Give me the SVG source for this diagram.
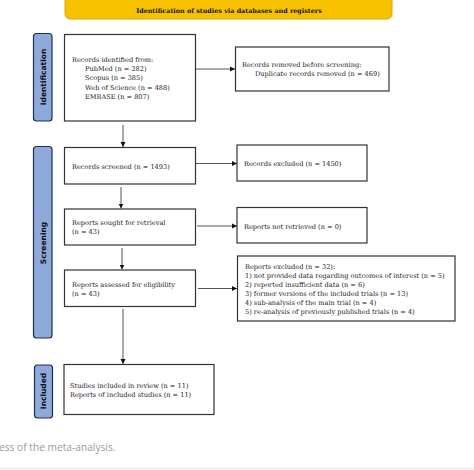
<svg xmlns="http://www.w3.org/2000/svg" width="474" height="470" viewBox="0 0 474 470">
<style>
.box{fill:#fff;stroke:#333;stroke-width:1.2}
.side{fill:#8eaadb;stroke:#1f2f4f;stroke-width:1.2}
.t{font-family:"DejaVu Serif",serif;font-size:6.6px;fill:#222}
.st{font-family:"DejaVu Sans","Liberation Sans",sans-serif;font-size:7.5px;font-weight:bold;fill:#111}
.ln{stroke:#555;stroke-width:1;fill:none}
</style>
<defs>
<marker id="ah" markerWidth="6" markerHeight="6" refX="5" refY="3" orient="auto" markerUnits="userSpaceOnUse">
<path d="M0,0.5 L5,3 L0,5.5 Z" fill="#111"/>
</marker>
</defs>
<rect x="0" y="0" width="474" height="470" fill="#fff"/>
<g id="header">
<rect x="65" y="-6" width="327" height="25" rx="5" fill="#f7c100" stroke="#e0a800" stroke-width="1"/>
<text x="229" y="12.5" text-anchor="middle" font-family="DejaVu Serif,serif" font-size="6.4" font-weight="bold" fill="#111">Identification of studies via databases and registers</text>
</g>
<g id="label-identification">
<rect class="side" x="33.5" y="33.5" width="18.5" height="87.5" rx="3"/>
<text class="st" transform="translate(45.5,77) rotate(-90)" text-anchor="middle">Identification</text>
</g>
<g id="label-screening">
<rect class="side" x="33.5" y="146.5" width="18.5" height="191.5" rx="3"/>
<text class="st" transform="translate(45.5,243) rotate(-90)" text-anchor="middle">Screening</text>
</g>
<g id="label-included">
<rect class="side" x="34.5" y="365" width="18" height="53" rx="3"/>
<text class="st" transform="translate(46,391) rotate(-90)" text-anchor="middle">Included</text>
</g>
<g id="records-identified">
<rect class="box" x="64.5" y="34.5" width="131" height="86.5"/>
<text class="t" x="72" y="62">Records identified from:</text>
<text class="t" x="85" y="71">PubMed (n = 282)</text>
<text class="t" x="85" y="80">Scopus (n = 385)</text>
<text class="t" x="85" y="89.5">Web of Science (n = 488)</text>
<text class="t" x="85" y="98.5">EMBASE (n = 807)</text>
</g>
<g id="records-removed">
<rect class="box" x="235.5" y="47" width="153.5" height="44"/>
<text class="t" x="242" y="67">Records removed before screening:</text>
<text class="t" x="255" y="76">Duplicate records removed (n = 469)</text>
</g>
<g id="records-screened">
<rect class="box" x="64.5" y="147.5" width="131" height="36.5"/>
<text class="t" x="72" y="168.5">Records screened (n = 1493)</text>
</g>
<g id="records-excluded">
<rect class="box" x="237" y="145" width="130" height="36"/>
<text class="t" x="244" y="166">Records excluded (n = 1450)</text>
</g>
<g id="reports-sought">
<rect class="box" x="64.5" y="209" width="131" height="36"/>
<text class="t" x="72" y="225">Reports sought for retrieval</text>
<text class="t" x="72" y="234">(n = 43)</text>
</g>
<g id="reports-not-retrieved">
<rect class="box" x="237" y="207.5" width="130" height="35.5"/>
<text class="t" x="244" y="228.5">Reports not retrieved (n = 0)</text>
</g>
<g id="reports-assessed">
<rect class="box" x="64.5" y="270" width="131" height="36.5"/>
<text class="t" x="72" y="286.5">Reports assessed for eligibility</text>
<text class="t" x="72" y="296">(n = 43)</text>
</g>
<g id="reports-excluded">
<rect class="box" x="237.5" y="256" width="217.5" height="65"/>
<text class="t" x="245" y="268.5">Reports excluded (n = 32):</text>
<text class="t" x="245" y="277.5">1) not provided data regarding outcomes of interest (n = 5)</text>
<text class="t" x="245" y="286.5">2) reported insufficient data (n = 6)</text>
<text class="t" x="245" y="295.5">3) former versions of the included trials (n = 13)</text>
<text class="t" x="245" y="304.5">4) sub-analysis of the main trial (n = 4)</text>
<text class="t" x="245" y="313.5">5) re-analysis of previously published trials (n = 4)</text>
</g>
<g id="studies-included">
<rect class="box" x="64" y="364.5" width="150" height="50"/>
<text class="t" x="70" y="387.5">Studies included in review (n = 11)</text>
<text class="t" x="70" y="397">Reports of included studies (n = 11)</text>
</g>
<g id="connectors">
<line class="ln" x1="196" y1="69" x2="235" y2="69" marker-end="url(#ah)"/>
<line class="ln" x1="123" y1="125" x2="123" y2="147" marker-end="url(#ah)"/>
<line class="ln" x1="196" y1="163.5" x2="237" y2="163.5" marker-end="url(#ah)"/>
<line class="ln" x1="121" y1="187" x2="121" y2="208.5" marker-end="url(#ah)"/>
<line class="ln" x1="197" y1="226" x2="237" y2="226" marker-end="url(#ah)"/>
<line class="ln" x1="122" y1="248" x2="122" y2="269.5" marker-end="url(#ah)"/>
<line class="ln" x1="198" y1="288.5" x2="237" y2="288.5" marker-end="url(#ah)"/>
<line class="ln" x1="123" y1="309" x2="123" y2="364" marker-end="url(#ah)"/>
</g>
<text x="-1" y="451" font-family="Open Sans,sans-serif" font-size="10.2" fill="#9a9a9a">ess of the meta-analysis.</text>
<rect x="0" y="467" width="474" height="3" fill="#f2f2f2"/>
</svg>
